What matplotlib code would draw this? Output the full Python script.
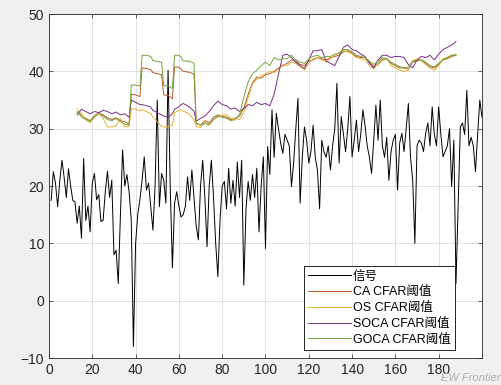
import matplotlib
matplotlib.use('Agg')

import numpy as np
import matplotlib.pyplot as plt

plt.rcParams['font.family'] = ['Liberation Sans', 'Noto Sans CJK SC', 'DejaVu Sans']

# signal, samples 1..200
signal = [
    17.5, 22.5, 20.5, 16.4, 21.0, 24.5, 21.5, 18.0, 23.0, 20.0,
    17.5, 17.2, 13.5, 16.5, 10.9, 24.8, 14.0, 16.5, 12.0, 20.5,
    22.2, 17.6, 18.5, 13.8, 14.0, 19.0, 22.6, 18.0, 21.0, 8.0,
    8.8, 3.0, 15.0, 26.3, 20.0, 22.0, 19.0, 14.0, -8.0, 10.0,
    15.0, 17.6, 21.0, 25.1, 19.3, 20.5, 16.4, 12.3, 20.0, 35.0,
    16.4, 22.2, 21.0, 17.0, 40.2, 20.0, 5.7, 17.0, 19.0, 16.5,
    14.6, 15.0, 16.5, 21.6, 17.5, 22.8, 18.0, 13.0, 10.6, 20.0,
    24.5, 18.0, 9.4, 20.0, 24.5, 18.0, 10.0, 4.2, 14.0, 20.0,
    20.8, 16.0, 23.1, 17.0, 21.0, 16.5, 24.2, 18.0, 24.5, 2.7,
    16.0, 20.8, 17.5, 22.0, 18.0, 23.1, 12.0, 20.0, 25.1, 9.1,
    26.9, 22.0, 33.3, 25.0, 32.7, 30.0, 27.5, 25.7, 29.0, 28.0,
    27.0, 19.9, 24.0, 30.0, 35.3, 17.0, 25.0, 30.3, 28.0, 24.0,
    26.0, 30.6, 25.0, 22.8, 16.0, 28.0, 26.0, 25.0, 27.0, 22.8,
    27.0, 30.0, 37.9, 24.0, 32.1, 29.0, 26.0, 30.0, 35.6, 25.1,
    28.0, 31.5, 26.0, 29.0, 33.3, 30.5, 27.0, 25.0, 22.2, 28.0,
    34.1, 28.0, 35.0, 27.0, 25.0, 28.5, 21.0, 26.0, 28.0, 29.0,
    19.3, 27.5, 29.2, 26.0, 30.0, 34.4, 25.0, 21.0, 10.0, 27.0,
    28.0, 27.5, 26.0, 29.2, 31.0, 27.0, 33.8, 29.0, 27.0, 33.8,
    29.0, 25.1, 26.0, 27.0, 30.0, 19.9, 28.0, 3.0, 17.0, 30.3,
    31.0, 29.0, 36.7, 27.0, 28.5, 27.0, 22.5, 29.0, 35.0, 32.0,
]

# threshold curves, sampled positions
thr_x = [13, 15, 17, 19, 21, 23, 25, 27, 29, 31, 33, 35, 37,
         38, 40, 42, 43, 45, 47, 48, 50, 52, 53, 55, 57, 58, 60, 61, 62, 64, 66, 67,
         68, 70, 72, 74, 76, 78, 80, 82, 84, 86, 88, 90, 92, 94, 96, 98, 100, 102, 104, 106, 108,
         110, 112, 114, 116, 118, 120, 122, 124, 126, 128, 130, 132, 134, 136, 138, 140,
         142, 144, 146, 148, 150, 152, 154, 156, 158, 160, 162, 164, 166, 168, 170, 172,
         174, 176, 178, 180, 182, 184, 186, 188]

ca_cfar = [32.8, 32.4, 31.8, 31.4, 32.3, 32.8, 32.4, 31.9, 31.6, 31.9, 31.4, 31.2, 30.8,
           36.0, 35.9, 35.6, 40.6, 40.5, 40.3, 39.8, 39.6, 39.4, 35.9, 35.8, 35.2, 40.8, 40.7, 40.4, 40.0, 39.9, 39.7, 39.5,
           30.9, 30.6, 31.4, 31.0, 32.0, 32.4, 32.2, 32.0, 31.6, 31.8, 32.2, 33.6, 36.0, 38.0, 39.0, 38.8, 39.4, 39.6, 40.0, 40.6, 41.0,
           41.4, 42.0, 41.8, 41.2, 41.0, 41.8, 42.0, 42.4, 42.2, 42.0, 42.4, 42.6, 42.8, 43.4, 43.6, 43.2,
           42.6, 42.4, 42.4, 41.6, 40.8, 41.2, 42.0, 42.2, 41.4, 41.0, 40.6, 40.6, 40.4, 41.6, 41.8, 42.0,
           41.4, 40.8, 40.6, 41.2, 42.0, 42.2, 42.6, 42.8]

os_cfar = [33.4, 32.6, 31.6, 31.0, 32.2, 32.9, 31.8, 30.3, 30.3, 30.5, 31.8, 30.3, 30.4,
           33.5, 33.4, 33.1, 33.3, 33.0, 32.6, 32.0, 31.2, 30.4, 30.3, 30.3, 30.6, 32.8, 33.2, 33.3, 33.0, 32.8, 32.0, 31.6,
           30.4, 30.2, 31.0, 30.8, 31.6, 32.0, 32.4, 32.4, 31.8, 31.8, 31.6, 32.8, 35.4, 37.8, 38.6, 39.2, 39.6, 40.0, 39.8, 40.4, 41.2,
           41.0, 41.6, 41.4, 40.8, 40.2, 41.4, 42.2, 42.4, 42.0, 41.6, 42.2, 42.8, 43.2, 43.6, 43.4, 43.0,
           42.4, 42.2, 42.0, 41.0, 40.4, 41.4, 42.4, 42.2, 41.0, 40.6, 40.2, 40.0, 40.2, 41.8, 42.2, 41.8,
           41.2, 40.6, 40.2, 41.0, 42.2, 42.4, 42.8, 43.0]

soca_cfar = [32.4, 33.4, 33.0, 32.6, 33.0, 32.8, 33.2, 33.0, 32.6, 32.9, 32.4, 32.6, 32.0,
             35.0, 34.6, 34.2, 34.2, 34.0, 33.8, 33.2, 32.8, 32.4, 32.2, 32.0, 32.6, 33.4, 33.8, 34.2, 34.4, 34.0, 33.4, 33.0,
             31.3, 31.8, 32.2, 33.0, 34.0, 34.8, 34.2, 34.0, 33.4, 33.6, 33.0, 33.5, 34.2, 34.0, 34.6, 34.2, 34.4, 34.0, 36.0, 39.5, 42.8,
             43.0, 42.4, 41.6, 41.0, 40.5, 42.0, 43.6, 43.6, 43.8, 41.8, 41.4, 41.0, 42.6, 44.2, 44.6, 43.8,
             43.6, 43.0, 42.6, 41.4, 40.6, 42.0, 42.8, 42.8, 42.4, 42.6, 42.6, 42.4, 41.2, 40.6, 42.0, 42.6,
             42.4, 42.8, 42.0, 43.0, 43.8, 44.2, 44.6, 45.2]

goca_cfar = [33.0, 32.0, 31.6, 31.3, 32.0, 32.6, 32.2, 31.6, 31.4, 31.8, 31.2, 30.8, 30.6,
             37.6, 37.6, 37.4, 42.8, 42.8, 42.6, 41.9, 41.7, 41.6, 37.5, 37.5, 37.0, 42.8, 42.8, 42.5, 41.8, 41.8, 41.6, 41.4,
             31.0, 30.6, 31.0, 30.6, 31.6, 32.2, 32.0, 31.8, 31.4, 31.6, 32.4, 35.5, 38.2, 39.6, 40.2, 41.0, 41.6, 41.0, 42.4, 42.0, 42.2,
             42.2, 42.8, 42.0, 41.6, 41.4, 42.2, 42.6, 42.8, 42.4, 42.6, 42.6, 43.0, 43.2, 43.8, 43.8, 43.4,
             42.8, 42.6, 42.4, 41.8, 41.2, 41.8, 42.4, 42.2, 41.6, 41.2, 40.8, 40.6, 40.8, 41.8, 42.0, 42.0,
             41.6, 41.0, 40.8, 41.4, 42.0, 42.4, 42.8, 42.8]

labels = ['信号', 'CA CFAR阈值', 'OS CFAR阈值', 'SOCA CFAR阈值', 'GOCA CFAR阈值']
colors = ['k', '#B9592A', '#E3B232', '#7A2E8C', '#72A83A']


def run():
    fig = plt.figure(figsize=(5.02, 3.85), dpi=100, facecolor='#f0f0f0')
    ax = fig.add_axes([0.0976, 0.0701, 0.8625, 0.8935])

    n = np.arange(1, len(signal) + 1)
    ax.plot(n, signal, color=colors[0], lw=0.7, label=labels[0])
    for ys, c, lab in zip([ca_cfar, os_cfar, soca_cfar, goca_cfar], colors[1:], labels[1:]):
        ax.plot(thr_x, ys, color=c, lw=0.7, label=lab)

    ax.set_xlim(0, 200)
    ax.set_ylim(-10, 50)
    ax.set_xticks(range(0, 200, 20))
    ax.set_yticks(range(-10, 51, 10))
    ax.grid(True, color='#dcdcdc', lw=0.6)
    ax.set_axisbelow(True)
    ax.tick_params(direction='in', top=True, right=True, labelsize=10,
                   colors='#262626', length=3, width=0.5)
    for s in ax.spines.values():
        s.set_color('#262626')
        s.set_linewidth(0.6)

    leg = ax.legend(loc='lower right', bbox_to_anchor=(0.938, 0.023), fontsize=9,
                    frameon=True, fancybox=False, framealpha=1, edgecolor='k',
                    handlelength=3.4, borderaxespad=0, labelspacing=0.3,
                    handletextpad=0.2, borderpad=0.35)
    leg.get_frame().set_linewidth(0.6)

    fig.text(0.997, 0.004, 'EW Frontier', ha='right', va='bottom', fontsize=8,
             color='#b0b0b0', style='italic')
    return fig


def main():
    fig = run()
    fig.savefig('out.png', dpi=100, facecolor=fig.get_facecolor())


if __name__ == '__main__':
    main()
